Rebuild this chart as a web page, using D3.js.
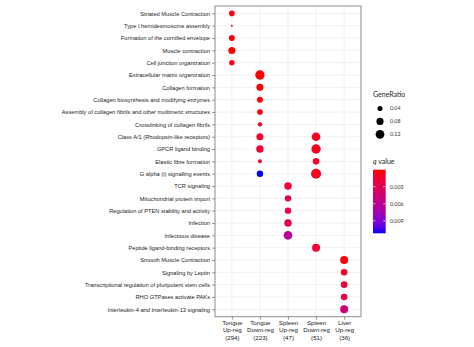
<!DOCTYPE html>
<html>
<head>
<meta charset="utf-8">
<script src="https://cdn.jsdelivr.net/npm/d3@7"></script>
<style>
  body { margin: 0; background: #fff; }
  svg { display: block; font-family: Lato, "Open Sans", sans-serif; }
</style>
</head>
<body>
<div id="chart"></div>
<script>
// pathway terms, top to bottom
const terms = [
  "Striated Muscle Contraction",
  "Type I hemidesmosome assembly",
  "Formation of the cornified envelope",
  "Muscle contraction",
  "Cell junction organization",
  "Extracellular matrix organization",
  "Collagen formation",
  "Collagen biosynthesis and modifying enzymes",
  "Assembly of collagen fibrils and other multimeric structures",
  "Crosslinking of collagen fibrils",
  "Class A/1 (Rhodopsin-like receptors)",
  "GPCR ligand binding",
  "Elastic fibre formation",
  "G alpha (i) signalling events",
  "TCR signaling",
  "Mitochondrial protein import",
  "Regulation of PTEN stability and activity",
  "Infection",
  "Infectious disease",
  "Peptide ligand-binding receptors",
  "Smooth Muscle Contraction",
  "Signaling by Leptin",
  "Transcriptional regulation of pluripotent stem cells",
  "RHO GTPases activate PAKs",
  "Interleukin-4 and Interleukin-13 signaling"
];

const groups = ["TU", "TD", "SU", "SD", "LU"];
const groupLabels = [
  ["Tongue", "Up-reg", "(294)"],
  ["Tongue", "Down-reg", "(223)"],
  ["Spleen", "Up-reg", "(47)"],
  ["Spleen", "Down-reg", "(51)"],
  ["Liver", "Up-reg", "(36)"]
];

// one entry per dot
const dotTerm = [0, 1, 2, 3, 4, 5, 6, 7, 8, 9, 10, 11, 12, 13, 10, 11, 12, 13, 14, 15, 16, 17, 18, 19, 20, 21, 22, 23, 24];
const dotGroup = ["TU", "TU", "TU", "TU", "TU", "TD", "TD", "TD", "TD", "TD", "TD", "TD", "TD", "TD",
  "SD", "SD", "SD", "SD", "SU", "SU", "SU", "SU", "SU", "SD", "LU", "LU", "LU", "LU", "LU"];
const geneRatio = [0.049, 0.006, 0.056, 0.077, 0.046, 0.138, 0.077, 0.056, 0.049, 0.030, 0.077, 0.086, 0.025, 0.064,
  0.116, 0.138, 0.068, 0.156, 0.086, 0.064, 0.064, 0.086, 0.116, 0.100, 0.100, 0.068, 0.068, 0.068, 0.100];
const qValue = [0.0002, 0.0004, 0.0002, 0.0001, 0.0003, 0.00002, 0.0001, 0.0002, 0.0004, 0.0008, 0.0014, 0.0015, 0.0018, 0.0112,
  0.0008, 0.0009, 0.0011, 0.0008, 0.0018, 0.0026, 0.0026, 0.0028, 0.0063, 0.0016, 0.0002, 0.0009, 0.0018, 0.0022, 0.0045];

const sizeBreaks = [0.04, 0.08, 0.12];
const qBreaks = [0.003, 0.006, 0.009];

const width = 474, height = 347;
const panel = { left: 215, right: 361, top: 6, bottom: 316.7 };

const svg = d3.select("#chart").append("svg")
  .attr("width", width)
  .attr("height", height);

svg.append("rect").attr("width", width).attr("height", height).attr("fill", "#fff");

const x = d3.scalePoint().domain(groups).range([panel.left, panel.right]).padding(0.6);
const y = d3.scalePoint().domain(terms).range([panel.top, panel.bottom]).padding(0.6);
const r = d3.scaleSqrt().domain([0, 0.16]).range([0, 5.06]);
const qExtent = d3.extent(qValue);
const color = d3.scaleLinear().domain(qExtent).range(["red", "blue"]).interpolate(d3.interpolateLab);

// grid
const grid = svg.append("g");
grid.selectAll(".gy").data(terms).join("line")
  .attr("x1", panel.left).attr("x2", panel.right)
  .attr("y1", d => y(d)).attr("y2", d => y(d))
  .attr("stroke", "#e8e8e8").attr("stroke-width", 0.6);
grid.selectAll(".gx").data(groups).join("line")
  .attr("x1", d => x(d)).attr("x2", d => x(d))
  .attr("y1", panel.top).attr("y2", panel.bottom)
  .attr("stroke", "#e8e8e8").attr("stroke-width", 0.6);

// dots
const dots = dotTerm.map((t, i) => ({ term: terms[t], group: dotGroup[i], ratio: geneRatio[i], q: qValue[i] }));
svg.append("g").selectAll("circle").data(dots).join("circle")
  .attr("cx", d => x(d.group))
  .attr("cy", d => y(d.term))
  .attr("r", d => r(d.ratio))
  .attr("fill", d => color(d.q));

// panel border
svg.append("rect")
  .attr("x", panel.left).attr("y", panel.top)
  .attr("width", panel.right - panel.left).attr("height", panel.bottom - panel.top)
  .attr("fill", "none").attr("stroke", "#8c8c8c").attr("stroke-width", 1);

// y axis
const yAxis = svg.append("g")
  .attr("transform", `translate(${panel.left},0)`)
  .call(d3.axisLeft(y).tickSize(3).tickPadding(2));
yAxis.select(".domain").remove();
yAxis.selectAll("line").attr("stroke", "#555").attr("stroke-width", 0.6);
yAxis.selectAll("text").attr("font-size", "5.7px").attr("fill", "#222").attr("font-family", null);

// x axis with three-line labels
const xAxis = svg.append("g")
  .attr("transform", `translate(0,${panel.bottom})`)
  .call(d3.axisBottom(x).tickSize(3).tickFormat(""));
xAxis.select(".domain").remove();
xAxis.selectAll("line").attr("stroke", "#555").attr("stroke-width", 0.6);
xAxis.selectAll(".tick text").remove();
xAxis.selectAll(".tick").each(function (d, i) {
  const t = d3.select(this).append("text")
    .attr("text-anchor", "middle")
    .attr("font-size", "6.2px")
    .attr("fill", "#222");
  groupLabels[i].forEach((line, k) => {
    t.append("tspan").attr("x", 0).attr("y", 8.3 + k * 7.3).text(line);
  });
});

// size legend
const sizeLegend = svg.append("g").attr("transform", "translate(373,0)");
sizeLegend.append("text").attr("x", 0).attr("y", 96.5)
  .attr("font-size", "7px").attr("fill", "#222").text("GeneRatio");
sizeBreaks.forEach((b, i) => {
  const cy = 108.5 + i * 12.9;
  sizeLegend.append("circle").attr("cx", 7).attr("cy", cy).attr("r", r(b)).attr("fill", "#000");
  sizeLegend.append("text").attr("x", 17).attr("y", cy).attr("dy", "0.35em")
    .attr("font-size", "5.3px").attr("fill", "#333").text(b.toFixed(2));
});

// colour legend
const qLegend = svg.append("g").attr("transform", "translate(373,0)");
const qt = qLegend.append("text").attr("x", 0).attr("y", 164)
  .attr("font-size", "7px").attr("fill", "#222");
qt.append("tspan").attr("font-style", "italic").text("q");
qt.append("tspan").text(" value");

const barY = d3.scaleLinear().domain(qExtent).range([169.7, 233.3]);
const grad = svg.append("defs").append("linearGradient")
  .attr("id", "qgrad").attr("x1", 0).attr("x2", 0).attr("y1", 0).attr("y2", 1);
d3.range(0, 1.0001, 0.1).forEach(f => {
  grad.append("stop").attr("offset", f)
    .attr("stop-color", color(qExtent[0] + f * (qExtent[1] - qExtent[0])));
});
const barW = 12.7;
qLegend.append("rect").attr("x", 0).attr("y", barY.range()[0])
  .attr("width", barW).attr("height", barY.range()[1] - barY.range()[0])
  .attr("fill", "url(#qgrad)");
qBreaks.forEach(b => {
  const yy = barY(b);
  qLegend.append("line").attr("x1", 0).attr("x2", 2.5).attr("y1", yy).attr("y2", yy)
    .attr("stroke", "#fff").attr("stroke-width", 0.6);
  qLegend.append("line").attr("x1", barW - 2.5).attr("x2", barW).attr("y1", yy).attr("y2", yy)
    .attr("stroke", "#fff").attr("stroke-width", 0.6);
  qLegend.append("text").attr("x", 17).attr("y", yy).attr("dy", "0.35em")
    .attr("font-size", "5.3px").attr("fill", "#333").text(b.toFixed(3));
});
</script>
</body>
</html>
